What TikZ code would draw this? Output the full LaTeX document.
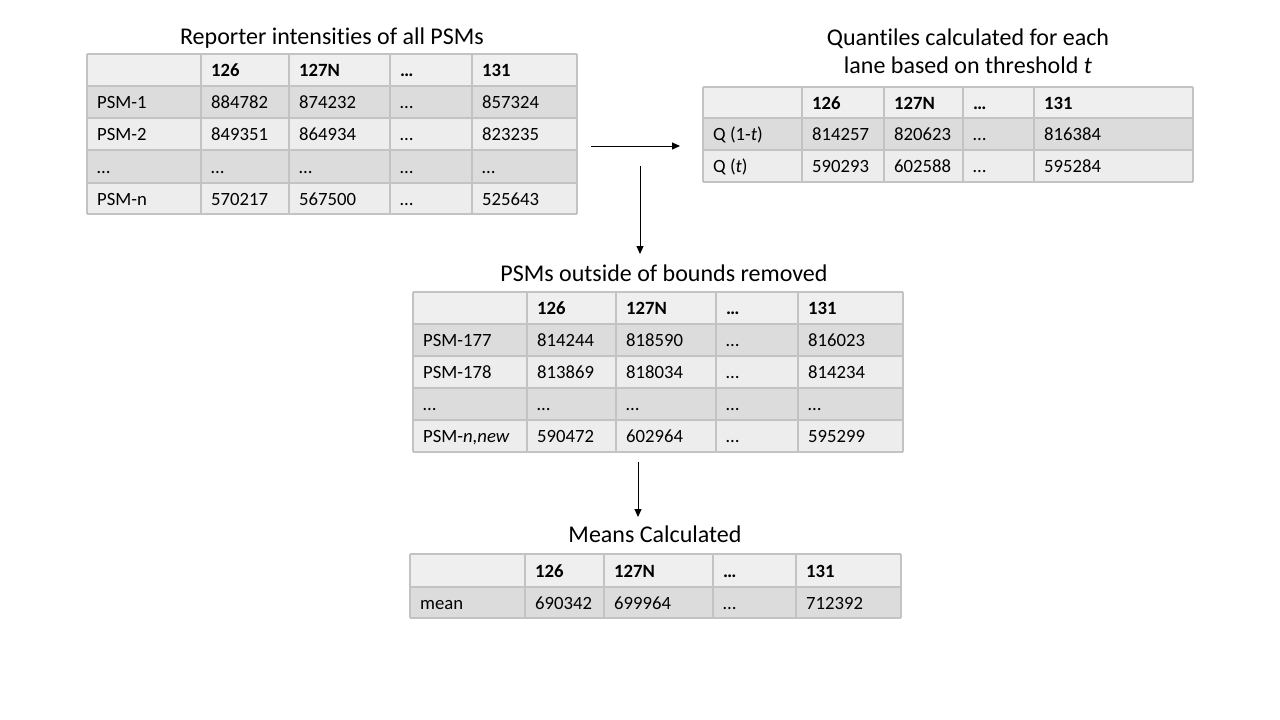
\documentclass[tikz,border=0pt]{standalone}
\usepackage{fontspec}
\setmainfont{Carlito}[Ligatures={NoCommon,NoRare,NoContextual}]
\usetikzlibrary{arrows.meta}
\definecolor{hdr}{HTML}{EFEFEF}
\definecolor{drk}{HTML}{DCDCDC}
\definecolor{lgt}{HTML}{EDEDED}
\definecolor{grid}{HTML}{C3C3C3}
\tikzset{
  cell/.style={anchor=base west,inner sep=0pt,font=\fontsize{18.7}{22}\selectfont},
  ttl/.style={anchor=base,inner sep=0pt,font=\fontsize{24}{29}\selectfont},
  gridline/.style={draw=grid,line width=1.3pt},
  flow/.style={line width=1pt,-{Triangle[length=8pt,width=7pt]}}
}
% #1 prefix, #2 baseline y, #3 list of x/text
\newcommand\cellrow[3]{%
  \foreach \xx/\tx [count=\i] in {#3} {\node[cell] (#1-\i) at (\xx+10,#2) {\tx};}%
}
\begin{document}
\begin{tikzpicture}[x=1pt,y=-1pt]
\useasboundingbox (0,0) rectangle (1280,720);
\fill[white] (0,0) rectangle (1280,720);

% ---------- Table 1 ----------
\node[ttl] (title1) at (332,44) {Reporter intensities of all PSMs};
\foreach \ya/\yb/\c in {54/86/hdr,86/118/drk,118/150/lgt,150/183/drk,183/214/lgt}
  \fill[\c] (87,\ya) rectangle (577,\yb);
\foreach \y in {54,86,118,150,183,214} \draw[gridline] (87,\y) -- (577,\y);
\foreach \x in {87,201,289,390,472,577} \draw[gridline] (\x,54) -- (\x,214);
\cellrow{a0}{76.5}{201/\textbf{126},289/\textbf{127N},390/\textbf{…},472/\textbf{131}}
\cellrow{a1}{108.5}{87/PSM-1,201/884782,289/874232,390/…,472/857324}
\cellrow{a2}{140.5}{87/PSM-2,201/849351,289/864934,390/…,472/823235}
\cellrow{a3}{173}{87/…,201/…,289/…,390/…,472/…}
\cellrow{a4}{205}{87/PSM-n,201/570217,289/567500,390/…,472/525643}

% ---------- Table 2 ----------
\node[ttl] (title2a) at (968,45) {Quantiles calculated for each};
\node[ttl] (title2b) at (968,73) {lane based on threshold \textit{t}};
\foreach \ya/\yb/\c in {87/118/hdr,118/150/drk,150/182/lgt}
  \fill[\c] (703,\ya) rectangle (1193,\yb);
\foreach \y in {87,118,150,182} \draw[gridline] (703,\y) -- (1193,\y);
\foreach \x in {703,802,884,963,1034,1193} \draw[gridline] (\x,87) -- (\x,182);
\cellrow{b0}{109}{802/\textbf{126},884/\textbf{127N},963/\textbf{…},1034/\textbf{131}}
\cellrow{b1}{140.5}{703/{Q (1-\textit{t})},802/814257,884/820623,963/…,1034/816384}
\cellrow{b2}{172.5}{703/{Q (\textit{t})},802/590293,884/602588,963/…,1034/595284}

% ---------- Table 3 ----------
\node[ttl] (title3) at (664,281) {PSMs outside of bounds removed};
\foreach \ya/\yb/\c in {292/324/hdr,324/356/drk,356/388/lgt,388/420/drk,420/452/lgt}
  \fill[\c] (413,\ya) rectangle (903,\yb);
\foreach \y in {292,324,356,388,420,452} \draw[gridline] (413,\y) -- (903,\y);
\foreach \x in {413,527,616,716,798,903} \draw[gridline] (\x,292) -- (\x,452);
\cellrow{c0}{314.5}{527/\textbf{126},616/\textbf{127N},716/\textbf{…},798/\textbf{131}}
\cellrow{c1}{346.5}{413/PSM-177,527/814244,616/818590,716/…,798/816023}
\cellrow{c2}{378.5}{413/PSM-178,527/813869,616/818034,716/…,798/814234}
\cellrow{c3}{410.5}{413/…,527/…,616/…,716/…,798/…}
\cellrow{c4}{442.5}{413/{PSM-\textit{n,new}},527/590472,616/602964,716/…,798/595299}

% ---------- Table 4 ----------
\node[ttl] (title4) at (655,542) {Means Calculated};
\foreach \ya/\yb/\c in {554/587/hdr,587/618/drk}
  \fill[\c] (410,\ya) rectangle (901,\yb);
\foreach \y in {554,587,618} \draw[gridline] (410,\y) -- (901,\y);
\foreach \x in {410,525,604,713,796,901} \draw[gridline] (\x,554) -- (\x,618);
\cellrow{d0}{577}{525/\textbf{126},604/\textbf{127N},713/\textbf{…},796/\textbf{131}}
\cellrow{d1}{609}{410/mean,525/690342,604/699964,713/…,796/712392}

% ---------- Arrows ----------
\coordinate (h1) at (591,146);
\coordinate (h2) at (680,146);
\coordinate (v1) at (640,166);
\coordinate (v2) at (640,254);
\coordinate (w1) at (638,462);
\coordinate (w2) at (638,517);
\draw[flow] (h1) -- (h2);
\draw[flow] (v1) -- (v2);
\draw[flow] (w1) -- (w2);
\end{tikzpicture}
\end{document}
